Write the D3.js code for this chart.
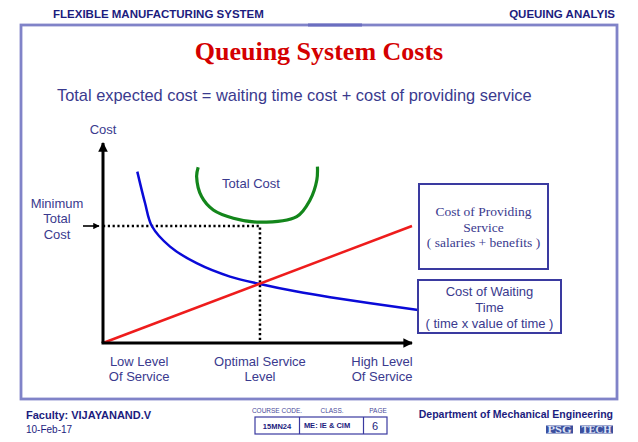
<!DOCTYPE html>
<html>
<head>
<meta charset="utf-8">
<script src="https://cdn.jsdelivr.net/npm/d3@7"></script>
<style>
  html, body { margin: 0; padding: 0; background: #fff; }
  svg { display: block; }
</style>
</head>
<body>
<div id="chart"></div>
<script>
// service level (0 = low, 100 = high) vs. cost (0..100)
const waitingLevel = [11.1, 13.6, 15.8, 21.7, 30.3, 41.1, 50.8, 62.7, 73.5, 102];
const waitingCost  = [85.7, 70.0, 58.5, 48.2, 39.9, 33.2, 29.5, 25.7, 22.9, 16.5];

const serviceLevel = [0, 100];
const serviceCost  = [0, 58.5];

const totalLevel = [30.8, 30.3, 31.9, 35.7, 42.2, 50.8, 62.7, 67.0, 69.2, 69.4];
const totalCost  = [87.9, 83.2, 73.2, 66.5, 62.4, 60.4, 63.2, 71.5, 81.5, 88.2];

const optimalLevel = 50.8;
const minTotalCost = 58.5;

const levelTicks  = [11.7, 50.8, 90.3];
const levelLabels = [['Low Level', 'Of Service'], ['Optimal Service', 'Level'], ['High Level', 'Of Service']];

const W = 638, H = 442;
const SANS = '"Liberation Sans", Arial, sans-serif';
const SERIF = '"Liberation Serif", "Times New Roman", serif';
const NAVY = '#1c1c7e', TXT = '#3a3a8e';

const svg = d3.select('#chart').append('svg').attr('width', W).attr('height', H);
svg.append('rect').attr('width', W).attr('height', H).attr('fill', '#fff');

// slide frame
svg.append('rect').attr('x', 21).attr('y', 25).attr('width', 596).attr('height', 374)
  .attr('fill', 'none').attr('stroke', '#8083c8').attr('stroke-width', 2.8);
svg.append('line').attr('x1', 308).attr('x2', 362).attr('y1', 25).attr('y2', 25)
  .attr('stroke', '#6a6ec0').attr('stroke-width', 2.8);

// header
svg.append('text').attr('x', 53).attr('y', 18).attr('font-family', SANS).attr('font-weight', 'bold')
  .attr('font-size', '11.5px').attr('fill', NAVY).text('FLEXIBLE MANUFACTURING SYSTEM');
svg.append('text').attr('x', 615).attr('y', 18).attr('text-anchor', 'end').attr('font-family', SANS)
  .attr('font-weight', 'bold').attr('font-size', '11.5px').attr('fill', NAVY).text('QUEUING ANALYIS');

svg.append('text').attr('x', 319).attr('y', 60).attr('text-anchor', 'middle').attr('font-family', SERIF)
  .attr('font-weight', 'bold').attr('font-size', '26px').attr('fill', '#d40000').text('Queuing System Costs');

svg.append('text').attr('x', 57).attr('y', 101).attr('font-family', SANS).attr('font-size', '16.4px')
  .attr('fill', TXT).text('Total expected cost = waiting time cost + cost of providing service');

// chart
const x = d3.scaleLinear().domain([0, 100]).range([103, 412]);
const y = d3.scaleLinear().domain([0, 100]).range([343, 143]);

const defs = svg.append('defs');
defs.append('marker').attr('id', 'arr').attr('viewBox', '0 0 10 10').attr('refX', 9).attr('refY', 5)
  .attr('markerWidth', 3.2).attr('markerHeight', 3.2).attr('orient', 'auto')
  .append('path').attr('d', 'M0,0L10,5L0,10z').attr('fill', '#000');
defs.append('marker').attr('id', 'arrSmall').attr('viewBox', '0 0 10 10').attr('refX', 9).attr('refY', 5)
  .attr('markerWidth', 4).attr('markerHeight', 4).attr('orient', 'auto')
  .append('path').attr('d', 'M0,0L10,5L0,10z').attr('fill', '#000');

const zip = (a, b) => a.map((v, i) => [v, b[i]]);
const line = d3.line().x(d => x(d[0])).y(d => y(d[1])).curve(d3.curveCatmullRom);

// dotted guides
svg.append('path')
  .attr('d', `M${x(0)},${y(minTotalCost)}H${x(optimalLevel)}V${y(0)}`)
  .attr('fill', 'none').attr('stroke', '#000').attr('stroke-width', 2.5).attr('stroke-dasharray', '2.2,2.6');

svg.append('path').datum(zip(totalLevel, totalCost)).attr('d', line)
  .attr('fill', 'none').attr('stroke', '#13861b').attr('stroke-width', 3.2);
svg.append('path').datum(zip(waitingLevel, waitingCost)).attr('d', line)
  .attr('fill', 'none').attr('stroke', '#0a0ad8').attr('stroke-width', 2.5);
svg.append('path').datum(zip(serviceLevel, serviceCost)).attr('d', d3.line().x(d => x(d[0])).y(d => y(d[1])))
  .attr('fill', 'none').attr('stroke', '#ee1c1c').attr('stroke-width', 2.5);

// axes
svg.append('line').attr('x1', x(0)).attr('y1', y(0)).attr('x2', x(0)).attr('y2', y(100))
  .attr('stroke', '#000').attr('stroke-width', 3).attr('marker-end', 'url(#arr)');
svg.append('line').attr('x1', x(0) - 1.5).attr('y1', y(0)).attr('x2', x(100)).attr('y2', y(0))
  .attr('stroke', '#000').attr('stroke-width', 3).attr('marker-end', 'url(#arr)');

svg.append('line').attr('x1', 83).attr('y1', y(minTotalCost)).attr('x2', 99).attr('y2', y(minTotalCost))
  .attr('stroke', '#000').attr('stroke-width', 1.6).attr('marker-end', 'url(#arrSmall)');

const label = (tx, ty, lines, opts = {}) => {
  const t = svg.append('text').attr('x', tx).attr('y', ty).attr('text-anchor', 'middle')
    .attr('font-family', opts.font || SANS).attr('font-size', opts.size || '13px').attr('fill', TXT);
  lines.forEach((s, i) => t.append('tspan').attr('x', tx).attr('dy', i ? (opts.lh || 15.5) : 0).text(s));
  return t;
};

label(x(0), 134, ['Cost']);
label(57, 207.5, ['Minimum', 'Total', 'Cost'], { lh: 15.7 });
label(251, 188, ['Total Cost']);
levelTicks.forEach((v, i) => label(x(v), 365.5, levelLabels[i]));

// callout boxes
svg.append('rect').attr('x', 419).attr('y', 184).attr('width', 129).attr('height', 85)
  .attr('fill', '#fff').attr('stroke', '#3a3aa0').attr('stroke-width', 2);
label(483.5, 216, ['Cost of Providing', 'Service', '( salaries + benefits )'], { font: SERIF, size: '13.5px', lh: 15.5 });

svg.append('rect').attr('x', 418).attr('y', 280).attr('width', 143).attr('height', 53)
  .attr('fill', '#fff').attr('stroke', '#3a3aa0').attr('stroke-width', 2);
label(489.5, 295.5, ['Cost of Waiting', 'Time', '( time x value of time )'], { lh: 16 });

// footer
svg.append('text').attr('x', 26).attr('y', 418.5).attr('font-family', SANS).attr('font-weight', 'bold')
  .attr('font-size', '11px').attr('fill', NAVY).text('Faculty: VIJAYANAND.V');
svg.append('text').attr('x', 26).attr('y', 432.5).attr('font-family', SANS)
  .attr('font-size', '10px').attr('fill', NAVY).text('10-Feb-17');

const small = (tx, s) => svg.append('text').attr('x', tx).attr('y', 412.5).attr('text-anchor', 'middle')
  .attr('font-family', SANS).attr('font-size', '6.5px').attr('fill', '#4a4a9a').text(s);
small(277, 'COURSE CODE.');
small(332, 'CLASS.');
small(378, 'PAGE');

svg.append('rect').attr('x', 255).attr('y', 417).attr('width', 132).attr('height', 17)
  .attr('fill', 'none').attr('stroke', '#3a3aa0').attr('stroke-width', 1.2);
[299.5, 363.5].forEach(v => svg.append('line').attr('x1', v).attr('x2', v).attr('y1', 417).attr('y2', 434)
  .attr('stroke', '#3a3aa0').attr('stroke-width', 1.2));
svg.append('text').attr('x', 277).attr('y', 428.5).attr('text-anchor', 'middle').attr('font-family', SANS)
  .attr('font-weight', 'bold').attr('font-size', '7.5px').attr('fill', NAVY).text('15MN24');
svg.append('text').attr('x', 327).attr('y', 427.5).attr('text-anchor', 'middle').attr('font-family', SANS)
  .attr('font-weight', 'bold').attr('font-size', '7.5px').attr('fill', NAVY).text('ME: IE & CIM');
svg.append('text').attr('x', 375).attr('y', 430).attr('text-anchor', 'middle').attr('font-family', SANS)
  .attr('font-size', '11px').attr('fill', NAVY).text('6');

svg.append('text').attr('x', 613).attr('y', 418).attr('text-anchor', 'end').attr('font-family', SANS)
  .attr('font-weight', 'bold').attr('font-size', '10.5px').attr('fill', NAVY).text('Department of Mechanical Engineering');

// PSG TECH logo
[[546, 27, 'PSG'], [580, 33, 'TECH']].forEach(([lx, lw, s]) => {
  svg.append('rect').attr('x', lx).attr('y', 425.5).attr('width', lw).attr('height', 8).attr('fill', '#3c4f9e');
  svg.append('text').attr('x', lx + lw / 2).attr('y', 432.5).attr('text-anchor', 'middle')
    .attr('font-family', SERIF).attr('font-weight', 'bold').attr('font-size', '9.5px')
    .attr('textLength', lw - 3).attr('lengthAdjust', 'spacingAndGlyphs')
    .attr('fill', '#dfe4f5').text(s);
});
</script>
</body>
</html>
